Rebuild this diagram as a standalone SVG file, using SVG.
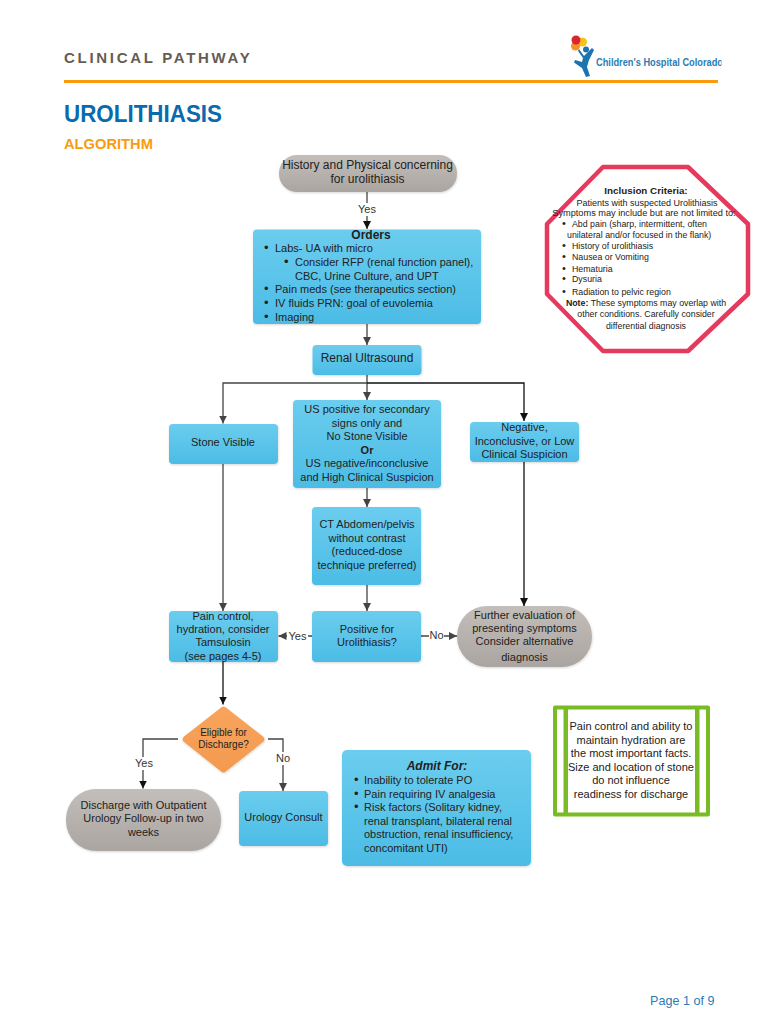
<svg xmlns="http://www.w3.org/2000/svg" width="768" height="1024" viewBox="0 0 768 1024">
<style>
text{font-family:"Liberation Sans",Arial,sans-serif;fill:#222;font-size:11px}
.c{text-anchor:middle}
.b{font-weight:700}
.sm{font-size:8.800px}
.bu{font-size:13px}
.bs{font-size:11px}
.blue{fill:url(#bl);filter:url(#sh)}
.gray{fill:url(#gr);filter:url(#sh)}
.ln{fill:none;stroke:#444;stroke-width:1.3}
.lk{fill:none;stroke:#111;stroke-width:1.3}
.lab{fill:#333;font-size:11px;text-anchor:middle}
</style>
<defs>
<linearGradient id="bl" x1="0" y1="0" x2="0" y2="1"><stop offset="0" stop-color="#6bcdee"/><stop offset="1" stop-color="#4cbce6"/></linearGradient>
<linearGradient id="gr" x1="0" y1="0" x2="0" y2="1"><stop offset="0" stop-color="#c3beb9"/><stop offset="1" stop-color="#aaa5a0"/></linearGradient>
<linearGradient id="or" x1="0" y1="0" x2="0" y2="1"><stop offset="0" stop-color="#f9a35c"/><stop offset="1" stop-color="#f49a50"/></linearGradient>
<filter id="sh" x="-5%" y="-5%" width="110%" height="112%"><feDropShadow dx="0.5" dy="1" stdDeviation="1" flood-color="#000" flood-opacity="0.16"/></filter>
<marker id="ag" markerUnits="userSpaceOnUse" markerWidth="9" markerHeight="9" refX="8" refY="4.5" orient="auto"><path d="M0,0.5L8,4.5L0,8.500Z" fill="#444"/></marker>
<marker id="ak" markerUnits="userSpaceOnUse" markerWidth="9" markerHeight="9" refX="8" refY="4.5" orient="auto"><path d="M0,0.5L8,4.5L0,8.500Z" fill="#111"/></marker>
<clipPath id="logoclip"><rect x="560" y="30" width="161.500" height="50"/></clipPath>
</defs>
<rect width="768" height="1024" fill="#fff"/>

<g id="header">
<text x="64" y="63" class="b" style="font-size:15px;letter-spacing:2.700px;fill:#655c52">CLINICAL PATHWAY</text>
<rect x="64" y="80" width="654" height="3" fill="#f89c0e"/>
<text x="64" y="122" class="b" style="font-size:23px;fill:#0a6aad" textLength="158" lengthAdjust="spacingAndGlyphs">UROLITHIASIS</text>
<text x="64" y="149" class="b" style="font-size:14.700px;fill:#f89c0e">ALGORITHM</text>
</g>

<g id="logo" clip-path="url(#logoclip)">
<circle cx="582.500" cy="42" r="4.500" fill="#f6c21c"/>
<circle cx="575.500" cy="46" r="4.500" fill="#f3902a"/>
<circle cx="576" cy="40" r="4.500" fill="#d9252f"/>
<circle cx="586" cy="49.500" r="3" fill="#1b74b0"/>
<path d="M579,49L584,56L592,48L594,50L589,60L587,67L590,76L586,77L582,68L574,62.500L575,60L582,62L583,58L578,51Z" fill="#1b74b0"/>
<text x="596" y="66" class="b" style="font-size:10.500px;fill:#2a7db5" textLength="127" lengthAdjust="spacingAndGlyphs">Children's Hospital Colorado</text>
</g>

<g id="connectors">
<path class="ln" d="M367,192V229" marker-end="url(#ak)"/>
<path class="ln" d="M367,324V345" marker-end="url(#ag)"/>
<path class="ln" d="M367,375V400" marker-end="url(#ag)"/>
<path class="ln" d="M367,383H223V423.500" marker-end="url(#ag)"/>
<path class="lk" d="M367,383H524V421" marker-end="url(#ak)"/>
<path class="ln" d="M367,488V507" marker-end="url(#ag)"/>
<path class="ln" d="M367,585V611" marker-end="url(#ag)"/>
<path class="ln" d="M223,464V611" marker-end="url(#ag)"/>
<path class="lk" d="M524,462V606" marker-end="url(#ak)"/>
<path class="ln" d="M312,636H278.500" marker-end="url(#ag)"/>
<path class="ln" d="M421,636H457" marker-end="url(#ag)"/>
<path class="lk" d="M223,662V704.500" marker-end="url(#ak)"/>
<path class="ln" d="M178,739H143V788.500" marker-end="url(#ak)"/>
<path class="ln" d="M268,739H283V791" marker-end="url(#ag)"/>
<g id="connector-labels">
<rect x="356" y="203" width="22" height="13" fill="#fff"/><text class="lab" x="367" y="213">Yes</text>
<rect x="287" y="630" width="21" height="13" fill="#fff"/><text class="lab" x="297.500" y="640">Yes</text>
<rect x="429" y="629" width="15" height="13" fill="#fff"/><text class="lab" x="436.500" y="639">No</text>
<rect x="133" y="757" width="22" height="13" fill="#fff"/><text class="lab" x="144" y="767">Yes</text>
<rect x="276" y="752" width="15" height="13" fill="#fff"/><text class="lab" x="283" y="762">No</text>
</g>
</g>

<g id="n-history">
<rect class="gray" x="279" y="155" width="178" height="37" rx="18" ry="18"/>
<text class="c" x="367.500" y="169" style="font-size:12px">History and Physical concerning</text>
<text class="c" x="367.500" y="183" style="font-size:12px">for urolithiasis</text>
</g>

<g id="n-orders">
<rect class="blue" x="253" y="229.500" width="228" height="94.500" rx="4"/>
<text class="c b" x="371" y="238.500" style="font-size:12px">Orders</text>
<text x="264" y="252" class="bu">•</text><text x="275" y="252">Labs- UA with micro</text>
<text x="284" y="266" class="bu">•</text><text x="295" y="266">Consider RFP (renal function panel),</text>
<text x="295" y="280">CBC, Urine Culture, and UPT</text>
<text x="264" y="293" class="bu">•</text><text x="275" y="293">Pain meds (see therapeutics section)</text>
<text x="264" y="307" class="bu">•</text><text x="275" y="307">IV fluids PRN: goal of euvolemia</text>
<text x="264" y="321" class="bu">•</text><text x="275" y="321">Imaging</text>
</g>

<g id="n-renal">
<rect class="blue" x="312.500" y="345" width="109" height="30" rx="4"/>
<text class="c" x="367" y="362" style="font-size:12px">Renal Ultrasound</text>
</g>

<g id="n-stone">
<rect class="blue" x="169" y="424" width="109" height="40" rx="4"/>
<text class="c" x="223" y="446">Stone Visible</text>
</g>

<g id="n-us">
<rect class="blue" x="293" y="400" width="148" height="88" rx="4"/>
<text class="c" x="367" y="413">US positive for secondary</text>
<text class="c" x="367" y="427">signs only and</text>
<text class="c" x="367" y="440">No Stone Visible</text>
<text class="c b" x="367" y="454">Or</text>
<text class="c" x="367" y="467">US negative/inconclusive</text>
<text class="c" x="367" y="481">and High Clinical Suspicion</text>
</g>

<g id="n-negative">
<rect class="blue" x="470" y="422" width="109" height="40" rx="4"/>
<text class="c" x="524.500" y="431">Negative,</text>
<text class="c" x="524.500" y="445">Inconclusive, or Low</text>
<text class="c" x="524.500" y="458">Clinical Suspicion</text>
</g>

<g id="n-ct">
<rect class="blue" x="312" y="507" width="109" height="78" rx="4"/>
<text class="c" x="367" y="528">CT Abdomen/pelvis</text>
<text class="c" x="367" y="542">without contrast</text>
<text class="c" x="367" y="555">(reduced-dose</text>
<text class="c" x="367" y="569">technique preferred)</text>
</g>

<g id="n-positive">
<rect class="blue" x="312" y="611" width="109" height="51" rx="4"/>
<text class="c" x="367" y="633">Positive for</text>
<text class="c" x="367" y="646">Urolithiasis?</text>
</g>

<g id="n-pain">
<rect class="blue" x="169" y="611" width="109" height="51" rx="4"/>
<text class="c" x="223" y="620">Pain control,</text>
<text class="c" x="223" y="633">hydration, consider</text>
<text class="c" x="223" y="646">Tamsulosin</text>
<text class="c" x="223" y="660">(see pages 4-5)</text>
</g>

<g id="n-further">
<rect class="gray" x="457" y="606" width="135" height="61" rx="30" ry="30"/>
<text class="c" x="524.500" y="619">Further evaluation of</text>
<text class="c" x="524.500" y="632">presenting symptoms</text>
<text class="c" x="524.500" y="645">Consider alternative</text>
<text class="c" x="524.500" y="661">diagnosis</text>
</g>

<g id="n-eligible">
<path d="M220.500,708Q223.500,705 226.500,708L263,736.500Q266,739.500 263,742L226.500,771Q223.500,774 220.500,771L184,742Q181,739.500 184,736.500Z" fill="url(#or)" filter="url(#sh)"/>
<text class="c" x="223.500" y="736" style="font-size:10px">Eligible for</text>
<text class="c" x="223.500" y="748" style="font-size:10px">Discharge?</text>
</g>

<g id="n-discharge">
<rect class="gray" x="66" y="789" width="155" height="62" rx="30" ry="30"/>
<text class="c" x="143.500" y="809">Discharge with Outpatient</text>
<text class="c" x="143.500" y="822">Urology Follow-up in two</text>
<text class="c" x="143.500" y="836">weeks</text>
</g>

<g id="n-urology">
<rect class="blue" x="239" y="791" width="89" height="55" rx="4"/>
<text class="c" x="283.500" y="821">Urology Consult</text>
</g>

<g id="n-admit">
<rect class="blue" x="342" y="750" width="189" height="116" rx="5"/>
<text class="c b" x="437" y="770" style="font-size:12px;font-style:italic">Admit For:</text>
<text x="354" y="784" class="bu">•</text><text x="364" y="784">Inability to tolerate PO</text>
<text x="354" y="798" class="bu">•</text><text x="364" y="798">Pain requiring IV analgesia</text>
<text x="354" y="811" class="bu">•</text><text x="364" y="811">Risk factors (Solitary kidney,</text>
<text x="364" y="825">renal transplant, bilateral renal</text>
<text x="364" y="838">obstruction, renal insufficiency,</text>
<text x="364" y="852">concomitant UTI)</text>
</g>

<g id="n-inclusion">
<path d="M603,167H688L748,224V294L688,351H603L547,294V224Z" fill="#fff" stroke="#e53a5e" stroke-width="4.500" stroke-linejoin="round"/>
<text class="c b" x="646" y="194" style="font-size:9.800px">Inclusion Criteria:</text>
<text class="c" x="647" y="206" style="font-size:9px">Patients with suspected Urolithiasis</text>
<text class="c" x="644" y="216" style="font-size:9.200px">Symptoms may include but are not limited to:</text>
<text class="bs" x="562" y="227">•</text><text class="sm" x="572" y="227">Abd pain (sharp, intermittent, often</text>
<text class="sm" x="567" y="238">unilateral and/or focused in the flank)</text>
<text class="bs" x="562" y="249">•</text><text class="sm" x="572" y="249">History of urolithiasis</text>
<text class="bs" x="562" y="260">•</text><text class="sm" x="572" y="260">Nausea or Vomiting</text>
<text class="bs" x="562" y="272">•</text><text class="sm" x="572" y="272">Hematuria</text>
<text class="bs" x="562" y="282">•</text><text class="sm" x="572" y="282">Dysuria</text>
<text class="bs" x="562" y="295">•</text><text class="sm" x="572" y="295">Radiation to pelvic region</text>
<text class="c sm" x="646" y="306"><tspan class="b">Note:</tspan> These symptoms may overlap with</text>
<text class="c sm" x="646" y="317">other conditions. Carefully consider</text>
<text class="c sm" x="646" y="329">differential diagnosis</text>
</g>

<g id="n-note">
<rect x="555" y="707.500" width="153" height="107" fill="#fff" stroke="#78bb24" stroke-width="4" stroke-linejoin="round"/>
<rect x="563.500" y="707" width="4.500" height="108" fill="#78bb24"/>
<rect x="695" y="707" width="4.500" height="108" fill="#78bb24"/>
<text class="c" x="631" y="730">Pain control and ability to</text>
<text class="c" x="631" y="744">maintain hydration are</text>
<text class="c" x="631" y="757">the most important facts.</text>
<text class="c" x="631" y="771">Size and location of stone</text>
<text class="c" x="631" y="784">do not influence</text>
<text class="c" x="631" y="798">readiness for discharge</text>
</g>

<text id="page" x="650" y="1005" style="font-size:12.600px;fill:#2b7bb9">Page 1 of 9</text>
</svg>
